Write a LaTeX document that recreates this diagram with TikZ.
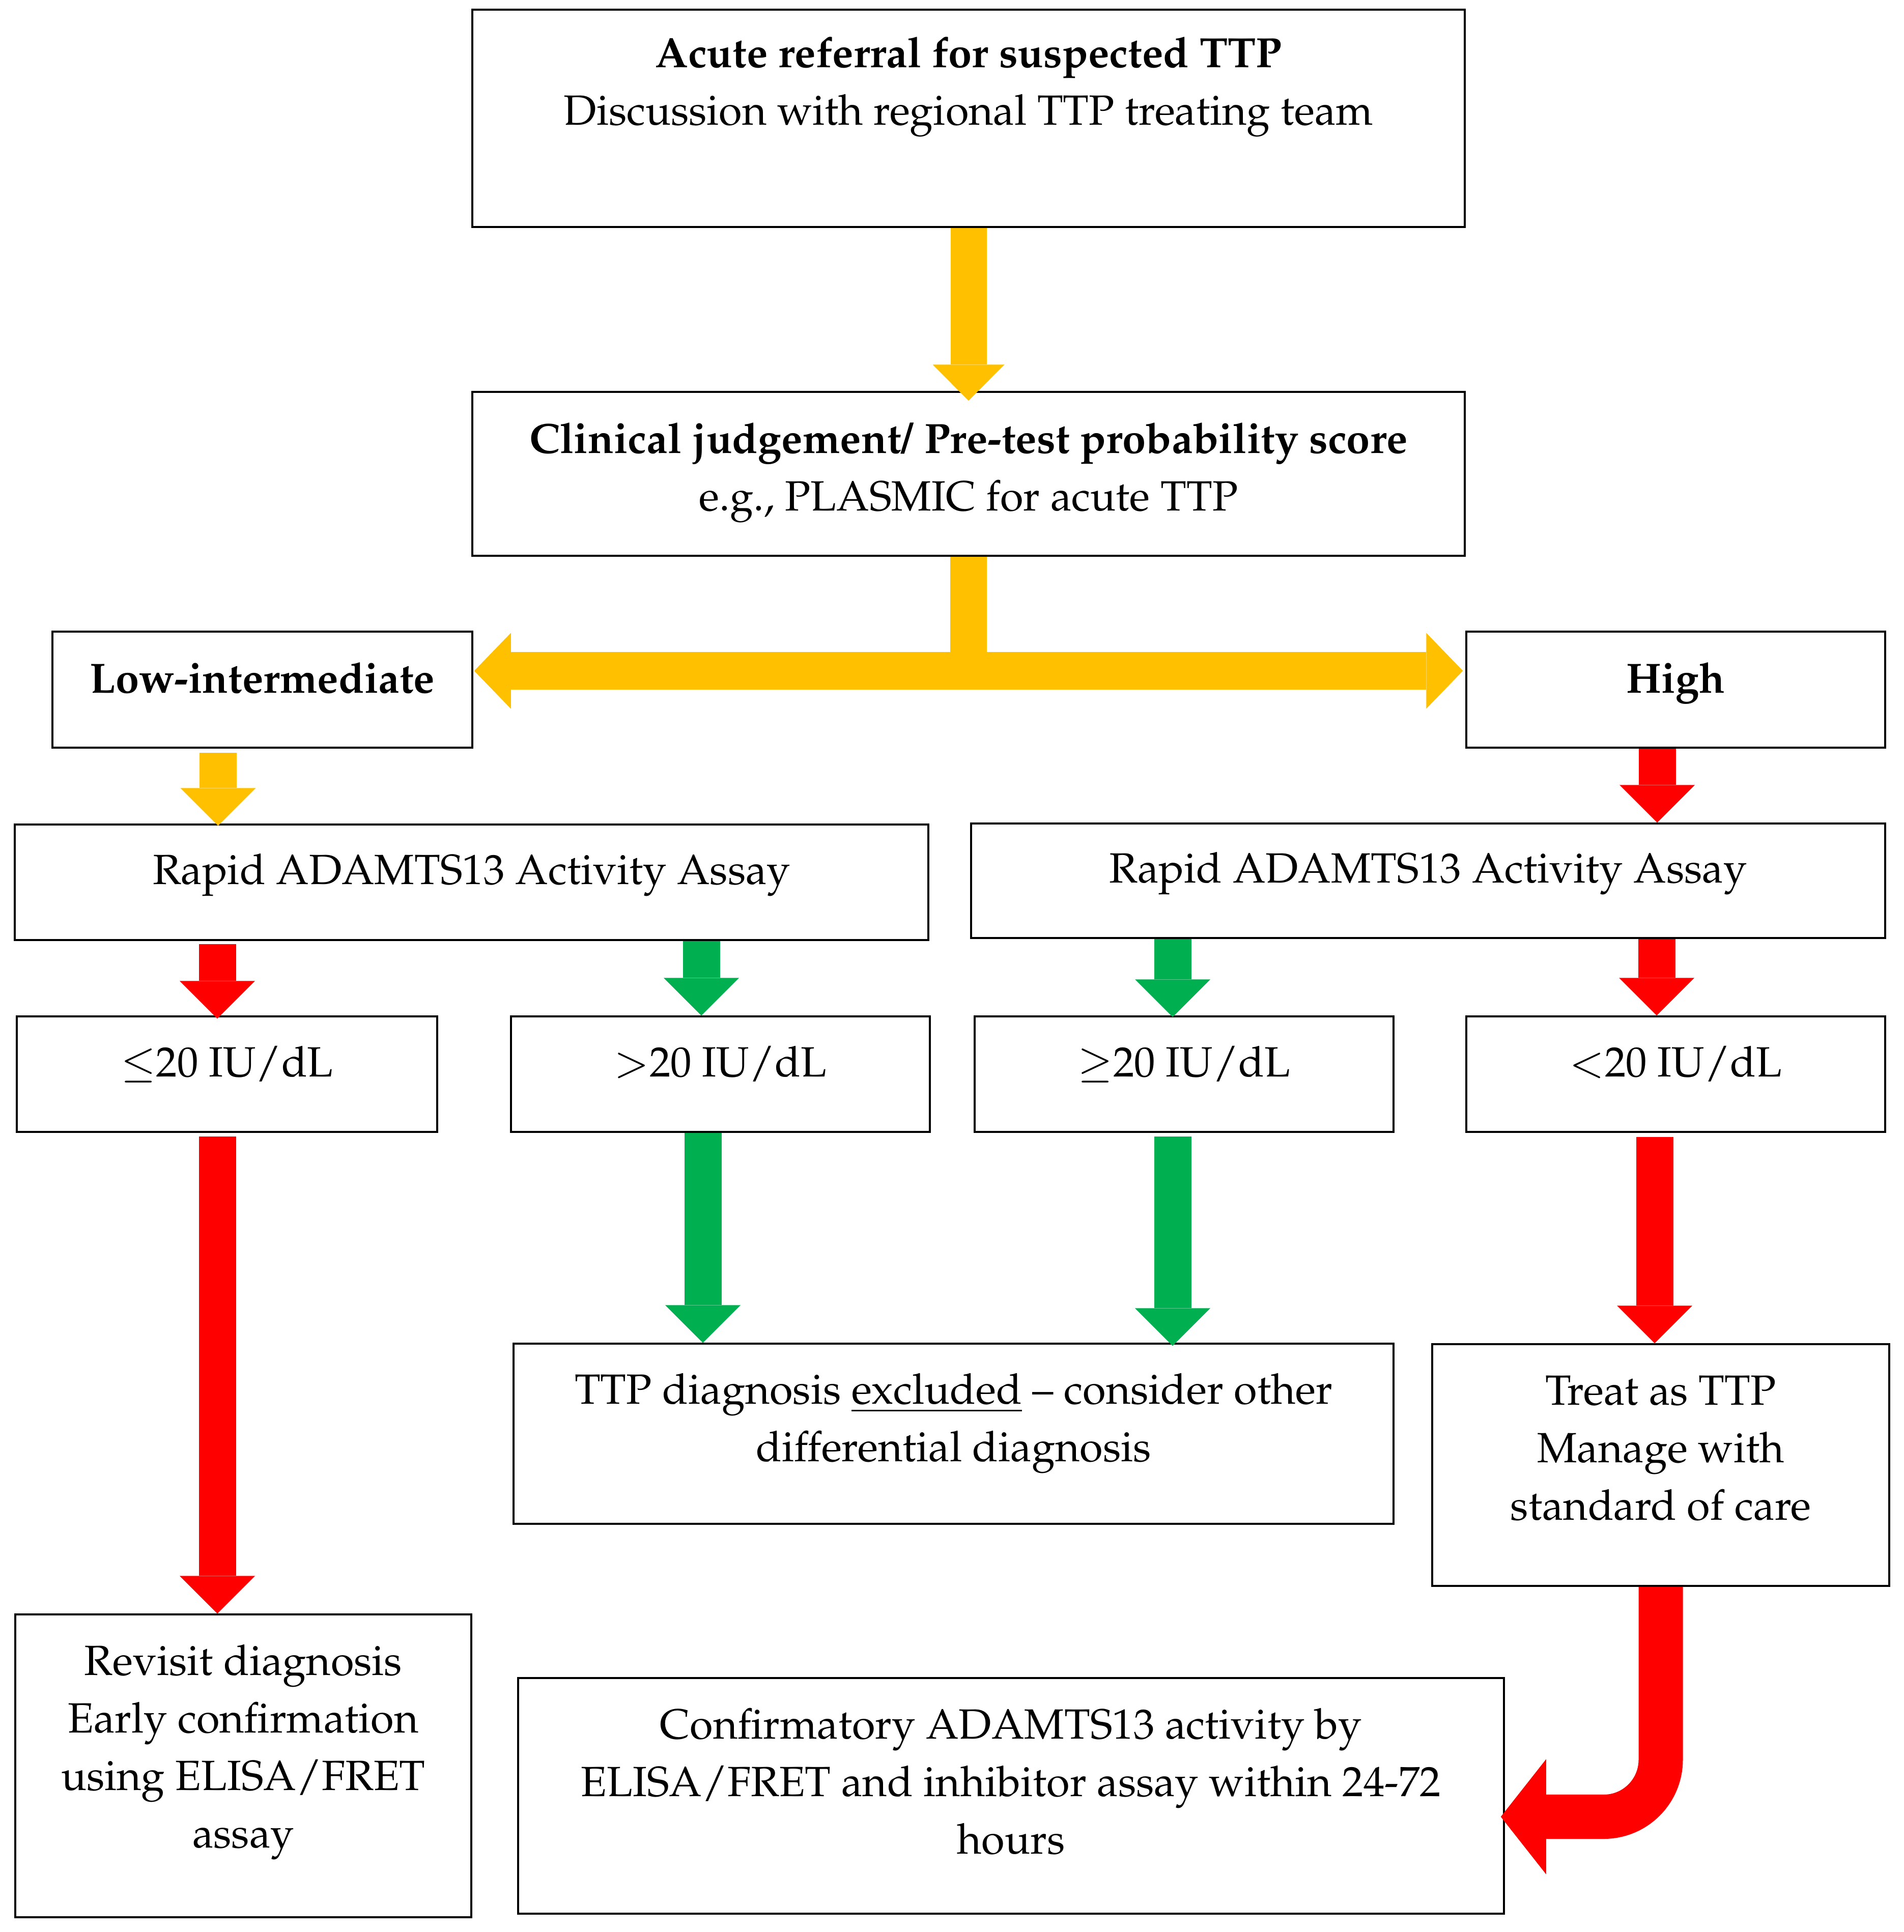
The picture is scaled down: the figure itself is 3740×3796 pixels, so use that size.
\documentclass[tikz,border=0pt]{standalone}
\usepackage[T1]{fontenc}
\usepackage{mathpazo}
\usetikzlibrary{arrows.meta,calc}
\definecolor{yel}{HTML}{FFC000}
\definecolor{rd}{HTML}{FF0000}
\definecolor{gr}{HTML}{00B050}
\tikzset{
  box/.style={draw=black, line width=3.5pt, inner sep=0pt},
  txt/.style={font=\fontsize{83}{113}\selectfont, align=center, inner sep=0pt, anchor=north},
  blk/.style={line width=73pt, -{Triangle[width=148pt,length=74pt,line width=0pt]}},
}
\begin{document}
\begin{tikzpicture}[x=1pt,y=-1pt]
\useasboundingbox[fill=white] (0,0) rectangle (3740,3796);
% boxes
\node[box, minimum width=1950pt, minimum height=427pt] (b1) at (1903,232.5) {};
\node[box, minimum width=1950pt, minimum height=322pt] (b2) at (1903,931) {};
\node[box, minimum width=825pt, minimum height=228pt] (low) at (515.5,1355) {};
\node[box, minimum width=823pt, minimum height=228pt] (high) at (3292.5,1355) {};
\node[box, minimum width=1795pt, minimum height=227pt] (rl) at (926.5,1733.5) {};
\node[box, minimum width=1796pt, minimum height=225pt] (rr) at (2806,1730.5) {};
\node[box, minimum width=826pt, minimum height=227pt] (le) at (446,2110.5) {};
\node[box, minimum width=823pt, minimum height=227pt] (gt) at (1415.5,2110.5) {};
\node[box, minimum width=823pt, minimum height=227pt] (ge) at (2326.5,2110.5) {};
\node[box, minimum width=823pt, minimum height=227pt] (lt) at (3292.5,2110.5) {};
\node[box, minimum width=1729pt, minimum height=354pt] (excl) at (1873.5,2817) {};
\node[box, minimum width=898pt, minimum height=475pt] (treat) at (3263,2878.5) {};
\node[box, minimum width=896pt, minimum height=595pt] (rev) at (478,3469.5) {};
\node[box, minimum width=1937pt, minimum height=463pt] (conf) at (1986.5,3528.5) {};
% texts
\node[txt] (t1) at (1903,53) {\strut\textbf{Acute referral for suspected TTP}\\Discussion with regional TTP treating team};
\node[txt] (t2) at (1903,811) {\strut\textbf{Clinical judgement/ Pre-test probability score}\\e.g., PLASMIC for acute TTP};
\node[txt] (tlow) at (515.5,1282) {\strut\textbf{Low-intermediate}};
\node[txt] (thigh) at (3292.5,1282) {\strut\textbf{High}};
\node[txt] (trl) at (926.5,1658) {\strut Rapid ADAMTS13 Activity Assay};
\node[txt] (trr) at (2806,1655) {\strut Rapid ADAMTS13 Activity Assay};
\node[txt] (tle) at (446,2036) {\strut$\leq$20 IU/dL};
\node[txt] (tgt) at (1415.5,2036) {\strut$>$20 IU/dL};
\node[txt] (tge) at (2326.5,2036) {\strut$\geq$20 IU/dL};
\node[txt] (tlt) at (3292.5,2036) {\strut$<$20 IU/dL};
\node[txt] (texcl) at (1873.5,2679) {\strut TTP diagnosis \underline{excluded} \textendash{} consider other\\differential diagnosis};
\node[txt] (ttreat) at (3263,2681) {\strut Treat as TTP\\Manage with\\standard of care};
\node[txt] (trev) at (478,3212) {\strut Revisit diagnosis\\Early confirmation\\using ELISA/FRET\\assay};
\node[txt] (tconf) at (1986.5,3337) {\strut Confirmatory ADAMTS13 activity by\\ELISA/FRET and inhibitor assay within 24-72\\hours};
% yellow arrows
\draw[yel, line width=71pt, -{Triangle[width=141pt,length=71pt,line width=0pt]}] (b1.south) -- ([yshift=-19pt]b2.north);
\coordinate (barL) at ([xshift=2pt,yshift=37pt]low.east);
\coordinate (barR) at ([xshift=-5pt,yshift=37pt]high.west);
\draw[yel, line width=72pt] (b2.south) -- (b2.south |- barL);
\draw[yel, line width=74pt, {Triangle[width=149pt,length=72pt,line width=0pt]}-{Triangle[width=149pt,length=72pt,line width=0pt]}] (barL) -- (barR);
\draw[yel, blk] ([xshift=-87pt,yshift=-8pt]low.south) -- ([xshift=-498pt,yshift=-4pt]rl.north);
% second level
\draw[rd, blk] ([xshift=-36.5pt]high.south) -- ([xshift=450pt]rr.north);
\draw[rd, blk] ([xshift=-499.5pt,yshift=-6pt]rl.south) -- ([xshift=-19pt,yshift=-6pt]le.north);
\draw[gr, blk] ([xshift=451.5pt]rl.south) -- ([xshift=-37.5pt]gt.north);
\draw[gr, blk] ([xshift=-502pt]rr.south) -- ([xshift=-22.5pt,yshift=-3pt]ge.north);
\draw[rd, blk] ([xshift=449pt]rr.south) -- ([xshift=-37.5pt]lt.north);
% long arrows
\draw[rd, blk] ([xshift=-19pt,yshift=-7pt]le.south) -- ([xshift=-51pt]rev.north);
\draw[gr, blk] ([xshift=-34.5pt]gt.south) -- ([xshift=-492.5pt]excl.north);
\draw[gr, blk] ([xshift=-22.5pt,yshift=-7pt]ge.south) -- ([xshift=430.5pt,yshift=-6pt]excl.north);
\draw[rd, blk] ([xshift=-41.5pt,yshift=-8pt]lt.south) -- ([xshift=-12pt]treat.north);
% bent arrow
\draw[rd, line width=87pt, rounded corners=112pt, -{Triangle[width=226pt,length=89pt,line width=0pt]}] (treat.south) |- ([xshift=-8pt,yshift=-41pt]conf.east);
\end{tikzpicture}
\end{document}
